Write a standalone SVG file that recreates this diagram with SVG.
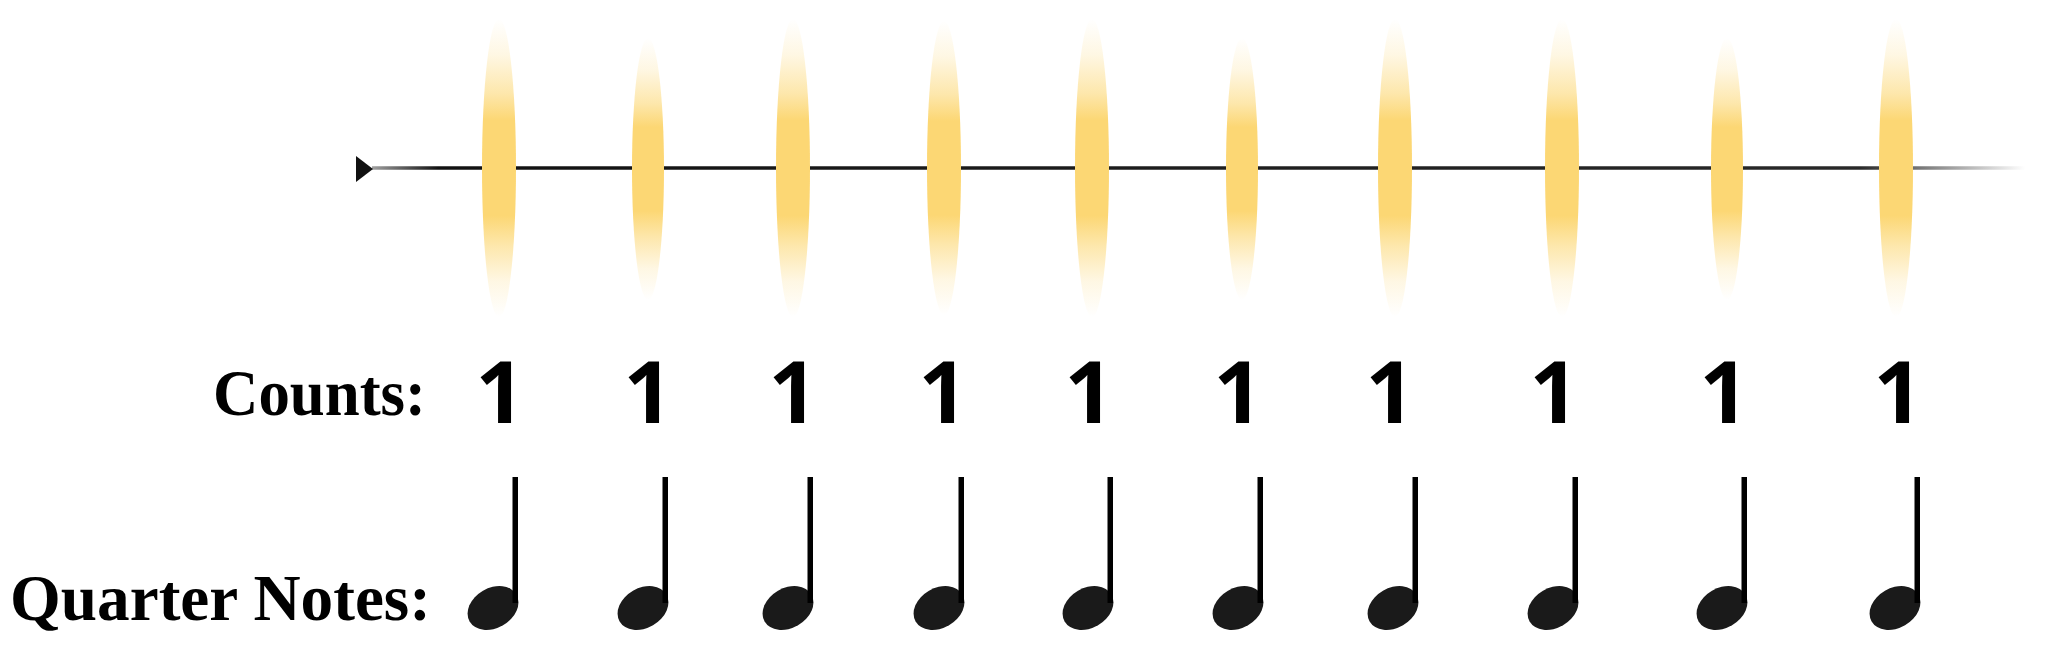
<svg xmlns="http://www.w3.org/2000/svg" width="2048" height="648" viewBox="0 0 2048 648">
<defs>
<linearGradient id="glow" x1="0" y1="0" x2="0" y2="1">
<stop offset="0" stop-color="#FCD774" stop-opacity="0"/>
<stop offset="0.12" stop-color="#FCD774" stop-opacity="0.2"/>
<stop offset="0.25" stop-color="#FCD774" stop-opacity="0.6"/>
<stop offset="0.34" stop-color="#FCD774" stop-opacity="1"/>
<stop offset="0.66" stop-color="#FCD774" stop-opacity="1"/>
<stop offset="0.76" stop-color="#FCD774" stop-opacity="0.6"/>
<stop offset="0.88" stop-color="#FCD774" stop-opacity="0.2"/>
<stop offset="1" stop-color="#FCD774" stop-opacity="0"/>
</linearGradient>
<linearGradient id="lineFade" gradientUnits="userSpaceOnUse" x1="372" y1="0" x2="2025" y2="0">
<stop offset="0" stop-color="#111" stop-opacity="0.4"/>
<stop offset="0.04" stop-color="#111" stop-opacity="1"/>
<stop offset="0.9" stop-color="#111" stop-opacity="0.9"/>
<stop offset="1" stop-color="#111" stop-opacity="0"/>
</linearGradient>
<g id="note">
<ellipse cx="0" cy="0" rx="27" ry="20" transform="rotate(-30)" fill="#1a1a1a"/>
<rect x="19.5" y="-131" width="5.5" height="126" fill="#000"/>
</g>
</defs>
<style>
.lbl{font-family:"Liberation Serif",serif;font-weight:bold;font-size:66px;fill:#000}
.cnt{font-family:"Open Sans","Liberation Sans",sans-serif;font-weight:bold;font-size:86px;fill:#000;text-anchor:middle}
.tall{fill:url(#glow)}
</style>
<g id="timeline">
<line x1="372" y1="168" x2="2025" y2="168" stroke="url(#lineFade)" stroke-width="3.5"/>
<polygon points="356,156 373,169 356,182" fill="#111"/>
</g>
<g id="beats">
<ellipse class="tall" cx="499" cy="168" rx="17" ry="149"/>
<ellipse class="tall" cx="648" cy="169" rx="16" ry="131"/>
<ellipse class="tall" cx="793" cy="168" rx="17" ry="149"/>
<ellipse class="tall" cx="944" cy="168" rx="17" ry="147"/>
<ellipse class="tall" cx="1092" cy="168" rx="17" ry="149"/>
<ellipse class="tall" cx="1242" cy="169" rx="16" ry="131"/>
<ellipse class="tall" cx="1395" cy="168" rx="17" ry="149"/>
<ellipse class="tall" cx="1562" cy="168" rx="17" ry="149"/>
<ellipse class="tall" cx="1727" cy="169" rx="16" ry="131"/>
<ellipse class="tall" cx="1896" cy="168" rx="17" ry="149"/>
</g>
<g id="labels">
<text class="lbl" x="213" y="415" textLength="213" lengthAdjust="spacingAndGlyphs">Counts:</text>
<text class="lbl" x="10" y="620" textLength="421" lengthAdjust="spacingAndGlyphs">Quarter Notes:</text>
</g>
<g id="counts">
<text class="cnt" x="500" y="423">1</text>
<text class="cnt" x="648" y="423">1</text>
<text class="cnt" x="793" y="423">1</text>
<text class="cnt" x="943" y="423">1</text>
<text class="cnt" x="1089" y="423">1</text>
<text class="cnt" x="1238" y="423">1</text>
<text class="cnt" x="1390" y="423">1</text>
<text class="cnt" x="1554" y="423">1</text>
<text class="cnt" x="1724" y="423">1</text>
<text class="cnt" x="1898" y="423">1</text>
</g>
<g id="notes">
<use href="#note" x="493" y="608"/>
<use href="#note" x="643" y="608"/>
<use href="#note" x="788" y="608"/>
<use href="#note" x="939" y="608"/>
<use href="#note" x="1088" y="608"/>
<use href="#note" x="1238" y="608"/>
<use href="#note" x="1393" y="608"/>
<use href="#note" x="1553" y="608"/>
<use href="#note" x="1722" y="608"/>
<use href="#note" x="1895" y="608"/>
</g>
</svg>
